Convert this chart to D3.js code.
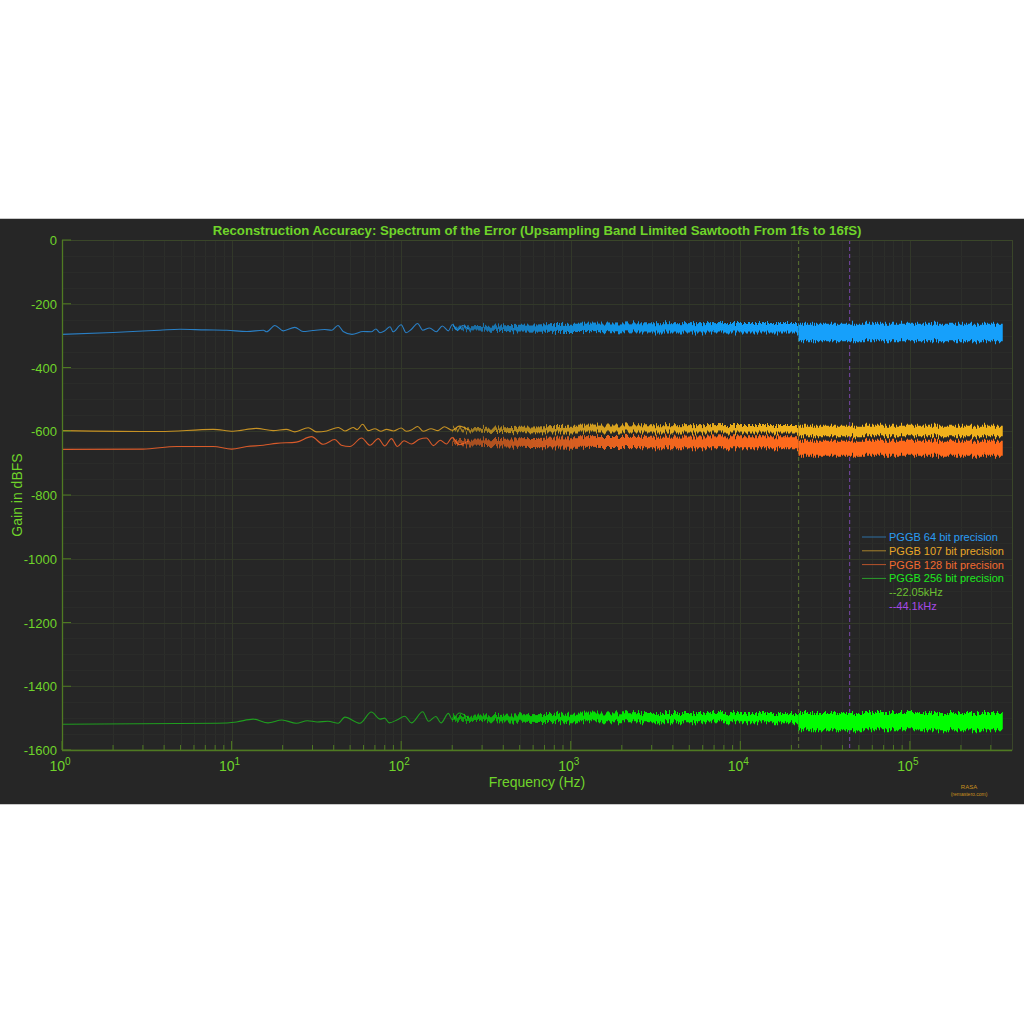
<!DOCTYPE html>
<html><head><meta charset="utf-8">
<script src="https://cdn.jsdelivr.net/npm/d3@7"></script>
<style>body{margin:0;background:#fff;}svg{display:block;}</style>
</head><body>
<script>
// ---------- data ----------
const title = "Reconstruction Accuracy: Spectrum of the Error (Upsampling Band Limited Sawtooth From 1fs to 16fS)";
const xDecades = [1, 10, 100, 1000, 10000, 100000];
const xTickExp = ["0", "1", "2", "3", "4", "5"];
const yTicks = [0, -200, -400, -600, -800, -1000, -1200, -1400, -1600];
const markers = [22050, 44100];
const markerLabels = ["--22.05kHz", "--44.1kHz"];
const seriesNames = ["PGGB 64 bit precision", "PGGB 107 bit precision", "PGGB 128 bit precision", "PGGB 256 bit precision"];

const blueFreq = [1, 2, 3.78, 4.97, 7, 9.36, 12.3, 15.4, 16.1, 18.0, 20.2, 23.6, 26.4, 30, 35.4, 38.9, 42.4, 45.5, 51.3, 59.7, 66.7, 71, 75, 80, 86, 89.6, 100, 107, 115, 125, 134, 147, 161, 175, 190, 200, 215, 230, 250];
const blueDb   = [-296, -290, -283, -280, -282, -283, -287, -283, -288, -268, -285, -274, -287, -284, -281, -283, -268, -287, -296, -287, -288, -279, -291, -285, -272, -288, -266, -291, -280, -262, -283, -276, -288, -270, -285, -265, -284, -268, -280];

const orangeFreq = [1, 3.78, 7.8, 10.2, 14.0, 17.6, 21, 23.6, 28.3, 31.7, 36.4, 42.6, 46.6, 52.1, 55, 59.2, 63.9, 70, 76, 82, 90, 100, 107, 115, 125, 135, 150, 165, 180, 200, 220, 250];
const orangeDb   = [-598, -601, -594, -600, -591, -598, -594, -602, -589, -602, -599, -588, -599, -588, -595, -578, -598, -592, -600, -594, -599, -590, -600, -596, -585, -600, -592, -598, -586, -597, -584, -596];

const redFreq = [1, 3.0, 4.75, 7.8, 10, 12.3, 15.4, 18.4, 24.1, 29.6, 34.7, 40.6, 44.4, 49.9, 58.5, 65.5, 73.3, 80, 87.7, 95, 104, 115, 128, 141, 155, 170, 185, 200, 220, 250];
const redDb   = [-657, -656, -648, -648, -656, -648, -644, -638, -634, -617, -641, -626, -644, -648, -621, -644, -623, -646, -623, -648, -630, -640, -625, -621, -645, -628, -640, -620, -642, -630];

const greenFreq = [1, 8.2, 10.7, 13.4, 16.4, 19.8, 24.1, 28, 32, 37, 42.6, 46.6, 57.1, 66.7, 75.1, 80, 85, 95, 105, 115, 134, 145, 160, 172, 190, 200, 220, 250];
const greenDb   = [-1519, -1516, -1512, -1503, -1515, -1506, -1516, -1508, -1512, -1510, -1516, -1497, -1516, -1481, -1503, -1500, -1515, -1505, -1494, -1515, -1480, -1510, -1495, -1515, -1485, -1505, -1484, -1500];

// noise band envelopes below and above the 22.05 kHz step
const bandFreqPre  = [200, 500, 1000, 3000, 10000, 22050];
const bandFreqPost = [22050, 352800];
const blueTopPre   = [-272, -266, -263, -261, -260, -260];
const blueBotPre   = [-282, -287, -289, -290, -290, -290];
const blueTopPost  = [-263, -263];
const blueBotPost  = [-318, -318];
const orangeTopPre = [-592, -586, -583, -581, -580, -580];
const orangeBotPre = [-600, -603, -604, -604, -604, -604];
const orangeTopPost = [-583, -583];
const orangeBotPost = [-616, -616];
const redTopPre = [-628, -622, -619, -617, -616, -616];
const redBotPre = [-643, -649, -652, -653, -653, -653];
const redTopPost = [-630, -630];
const redBotPost = [-677, -677];
const greenTopPre = [-1494, -1488, -1486, -1484, -1484, -1484];
const greenBotPre = [-1508, -1511, -1513, -1513, -1513, -1513];
const greenTopPost = [-1484, -1484];
const greenBotPost = [-1538, -1538];

// ---------- styling ----------
const lineColors = ["#2a7fc4", "#c79224", "#d85a2a", "#1f9e1f"];
const bandColors = ["#12a0fb", "#f0b21e", "#ff6a1e", "#00ff00"];
const legendLineColors = ["#2c6ea3", "#a8822c", "#b8532c", "#2b9e2b"];
const textColors = ["#2a9df4", "#e8a628", "#f26a30", "#1ee81e"];
const markerColors = ["#52672f", "#6a4192"];
const markerTextColors = ["#6cc031", "#a64ae6"];
const green = "#6fd42a";

const W = 1024, H = 1024;
const svg = d3.select("body").append("svg").attr("width", W).attr("height", H);
svg.append("rect").attr("x", 0).attr("y", 218).attr("width", W).attr("height", 587).attr("fill", "#262626");
svg.append("line").attr("x1",0).attr("x2",W).attr("y1",218.5).attr("y2",218.5).attr("stroke","#c8c8c8");
svg.append("line").attr("x1",0).attr("x2",W).attr("y1",804.5).attr("y2",804.5).attr("stroke","#c8c8c8");

const x = d3.scaleLog().domain([1, 4e5]).range([62, 1012]);
const y = d3.scaleLinear().domain([-1600, 0]).range([750, 240]);

const defs = svg.append("defs");
defs.append("clipPath").attr("id","clip").append("rect").attr("x",62).attr("y",240).attr("width",950).attr("height",510);

// jagged-edge texture for the dense noise bands
const flt = defs.append("filter").attr("id", "jag").attr("filterUnits", "userSpaceOnUse")
  .attr("x", 62).attr("y", 240).attr("width", 950).attr("height", 510);
flt.append("feTurbulence").attr("type", "fractalNoise").attr("baseFrequency", "0.9 0.0005").attr("numOctaves", 2).attr("seed", 3).attr("result", "n");
flt.append("feColorMatrix").attr("in", "n").attr("type", "matrix")
  .attr("values", "0 0 0 0 0.5  0 1.6 0 0 -0.3  0 0 0 0 0  0 0 0 0 1").attr("result", "m");
flt.append("feDisplacementMap").attr("in", "SourceGraphic").attr("in2", "m").attr("scale", 7)
  .attr("xChannelSelector", "R").attr("yChannelSelector", "G");

// grid
const g = svg.append("g");
const minorX = [];
for (let e = 0; e < 6; e++) for (let m = 2; m <= 9; m++) { const v = m * Math.pow(10, e); if (v < 4e5) minorX.push(v); }
g.selectAll(".mx").data(minorX).enter().append("line")
  .attr("x1", d => Math.round(x(d)) + 0.5).attr("x2", d => Math.round(x(d)) + 0.5)
  .attr("y1", 240).attr("y2", 750).attr("stroke", "#2c2e2a").attr("stroke-width", 1);
const minorY = d3.range(-1600, 1, 50).filter(v => v % 200 !== 0);
g.selectAll(".my").data(minorY).enter().append("line")
  .attr("x1", 62).attr("x2", 1012)
  .attr("y1", d => Math.round(y(d)) + 0.5).attr("y2", d => Math.round(y(d)) + 0.5)
  .attr("stroke", "#2a2b29").attr("stroke-width", 1);
g.selectAll(".Mx").data(xDecades.slice(1)).enter().append("line")
  .attr("x1", d => Math.round(x(d)) + 0.5).attr("x2", d => Math.round(x(d)) + 0.5)
  .attr("y1", 240).attr("y2", 750).attr("stroke", "#323829").attr("stroke-width", 1);
g.selectAll(".My").data(yTicks.slice(1, -1)).enter().append("line")
  .attr("x1", 62).attr("x2", 1012)
  .attr("y1", d => Math.round(y(d)) + 0.5).attr("y2", d => Math.round(y(d)) + 0.5)
  .attr("stroke", "#323829").attr("stroke-width", 1);

// markers
markers.forEach((m, i) => {
  svg.append("line").attr("x1", x(m)).attr("x2", x(m)).attr("y1", 240).attr("y2", 750)
    .attr("stroke", markerColors[i]).attr("stroke-width", 1.2).attr("stroke-dasharray", "4,3");
});

// gradient for noise density ramp
bandColors.forEach((c, i) => {
  const lg = defs.append("linearGradient").attr("id", "grad" + i).attr("gradientUnits", "userSpaceOnUse")
    .attr("x1", x(200)).attr("x2", x(20000)).attr("y1", 0).attr("y2", 0);
  [[0, 0.55], [0.25, 0.75], [0.5, 0.9], [1, 1]].forEach(s => lg.append("stop").attr("offset", s[0]).attr("stop-color", c).attr("stop-opacity", s[1]));
});

const plot = svg.append("g").attr("clip-path", "url(#clip)");
const lineGen = d3.line().x(d => x(d[0])).y(d => y(d[1])).curve(d3.curveMonotoneX);
const areaGen = d3.area().x(d => x(d[0])).y0(d => y(d[2])).y1(d => y(d[1]));

const series = [
  [blueFreq, blueDb, blueTopPre, blueBotPre, blueTopPost, blueBotPost],
  [orangeFreq, orangeDb, orangeTopPre, orangeBotPre, orangeTopPost, orangeBotPost],
  [redFreq, redDb, redTopPre, redBotPre, redTopPost, redBotPost],
  [greenFreq, greenDb, greenTopPre, greenBotPre, greenTopPost, greenBotPost]
];
series.forEach((s, i) => {
  const pts = s[0].map((f, k) => [f, s[1][k]]);
  plot.append("path").attr("d", lineGen(pts)).attr("fill", "none").attr("stroke", lineColors[i]).attr("stroke-width", 1.1);
  const bands = plot.append("g").attr("filter", "url(#jag)");
  const pre = bandFreqPre.map((f, k) => [f, s[2][k], s[3][k]]);
  bands.append("path").attr("d", areaGen(pre)).attr("fill", "url(#grad" + i + ")");
  const post = bandFreqPost.map((f, k) => [f, s[4][k], s[5][k]]);
  bands.append("path").attr("d", areaGen(post)).attr("fill", bandColors[i]);
});

// axes
const axisColor = "#4f7a22";
svg.append("rect").attr("x", 62.5).attr("y", 240.5).attr("width", 950).attr("height", 509.5)
  .attr("fill", "none").attr("stroke", "#3a4629");
svg.append("line").attr("x1", 62.5).attr("x2", 62.5).attr("y1", 240).attr("y2", 750).attr("stroke", axisColor).attr("stroke-width", 1.3);
svg.append("line").attr("x1", 62).attr("x2", 1012).attr("y1", 750.5).attr("y2", 750.5).attr("stroke", axisColor).attr("stroke-width", 1.3);

// ticks (inward)
svg.selectAll(".xmt").data(minorX).enter().append("line")
  .attr("x1", d => x(d)).attr("x2", d => x(d)).attr("y1", 750).attr("y2", 745).attr("stroke", axisColor);
svg.selectAll(".xMt").data(xDecades).enter().append("line")
  .attr("x1", d => x(d)).attr("x2", d => x(d)).attr("y1", 750).attr("y2", 741).attr("stroke", axisColor);
svg.selectAll(".yMt").data(yTicks).enter().append("line")
  .attr("x1", 62).attr("x2", 71).attr("y1", d => y(d)).attr("y2", d => y(d)).attr("stroke", axisColor);

const font = "Liberation Sans, Arial, sans-serif";
svg.selectAll(".ytl").data(yTicks).enter().append("text")
  .attr("x", 57).attr("y", d => y(d) + 5).attr("text-anchor", "end")
  .attr("font-family", font).attr("font-size", 13).attr("fill", green).text(d => d);
xDecades.forEach((d, i) => {
  const t = svg.append("text").attr("x", x(d) - 2).attr("y", 771).attr("text-anchor", "middle")
    .attr("font-family", font).attr("font-size", 14).attr("fill", green);
  t.append("tspan").text("10");
  t.append("tspan").attr("dy", -6).attr("font-size", 10).text(xTickExp[i]);
});

svg.append("text").attr("x", 537).attr("y", 235).attr("text-anchor", "middle")
  .attr("font-family", font).attr("font-weight", "bold").attr("font-size", 13.2).attr("fill", green).text(title);
svg.append("text").attr("x", 537).attr("y", 787).attr("text-anchor", "middle")
  .attr("font-family", font).attr("font-size", 14).attr("fill", green).text("Frequency (Hz)");
svg.append("text").attr("transform", "translate(22,495) rotate(-90)").attr("text-anchor", "middle")
  .attr("font-family", font).attr("font-size", 14).attr("fill", green).text("Gain in dBFS");

// legend
const lx = 862, ly0 = 537, lstep = 13.8;
seriesNames.forEach((n, i) => {
  const yy = ly0 + i * lstep;
  svg.append("line").attr("x1", lx).attr("x2", lx + 24).attr("y1", yy).attr("y2", yy).attr("stroke", legendLineColors[i]).attr("stroke-width", 1);
  svg.append("text").attr("x", lx + 27).attr("y", yy + 4).attr("font-family", font).attr("font-size", 11)
    .attr("fill", textColors[i]).text(n);
});
markerLabels.forEach((n, i) => {
  const yy = ly0 + (4 + i) * lstep;
  svg.append("text").attr("x", lx + 27).attr("y", yy + 4).attr("font-family", font).attr("font-size", 11)
    .attr("fill", markerTextColors[i]).text(n);
});

svg.append("text").attr("x", 969).attr("y", 789).attr("text-anchor", "middle").attr("font-family", font)
  .attr("font-size", 6).attr("fill", "#c8901e").text("RASA");
svg.append("text").attr("x", 969).attr("y", 796).attr("text-anchor", "middle").attr("font-family", font)
  .attr("font-size", 5).attr("fill", "#c8901e").text("(remastero.com)");
</script>
</body></html>
